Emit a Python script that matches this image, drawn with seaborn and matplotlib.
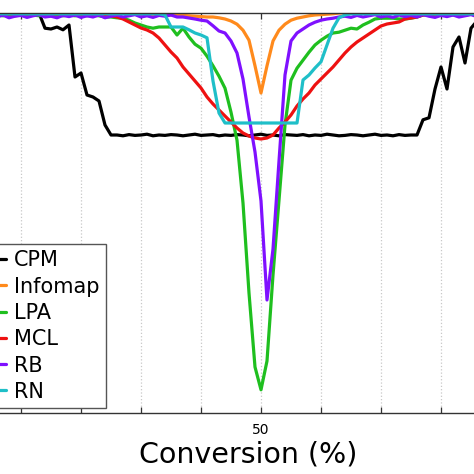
import numpy as np
import pandas as pd
import matplotlib
matplotlib.use("Agg")
import matplotlib.pyplot as plt
import seaborn as sns

conversion = list(range(0, 101))

cpm = ([1.0] * 14
       + [0.962, 0.96, 0.965, 0.958, 0.97, 0.84, 0.85, 0.795, 0.79, 0.78, 0.72, 0.695]
       + [0.695, 0.693, 0.696, 0.694, 0.695, 0.697, 0.693, 0.695, 0.694, 0.696,
          0.695, 0.693, 0.695, 0.697, 0.694, 0.695, 0.696, 0.693, 0.695, 0.694,
          0.696, 0.695, 0.693, 0.695, 0.697, 0.694, 0.695, 0.693, 0.696, 0.695,
          0.694, 0.696, 0.693, 0.695, 0.694, 0.697, 0.695, 0.693, 0.694, 0.696,
          0.695, 0.693, 0.695, 0.697, 0.694, 0.695, 0.693, 0.696, 0.694, 0.695]
       + [0.695, 0.733, 0.738, 0.81, 0.865, 0.81, 0.915, 0.94, 0.875, 0.962, 0.98, 0.97, 0.99]
       + [1.0] * 12)

infomap = ([1.0] * 30
           + [0.997, 0.997, 0.996, 0.996, 0.995, 0.995, 0.994, 0.994]
           + [0.993, 0.992, 0.991, 0.99, 0.99, 0.988, 0.985, 0.98, 0.972, 0.957, 0.932, 0.868,
              0.80, 0.868, 0.93, 0.957, 0.972, 0.982, 0.987, 0.99, 0.993, 0.995, 0.996, 0.997, 0.998]
           + [1.0] * 38)

lpa = ([0.995, 0.993] * 12
       + [0.99, 0.99, 0.988, 0.987, 0.982, 0.975, 0.97, 0.965, 0.962, 0.965,
          0.965, 0.965, 0.945, 0.962, 0.94, 0.922, 0.912, 0.892, 0.868, 0.842,
          0.812, 0.752, 0.682, 0.525, 0.30, 0.115, 0.058, 0.13, 0.345, 0.532,
          0.72, 0.832, 0.862, 0.882, 0.902, 0.92, 0.932, 0.942, 0.95, 0.952,
          0.957, 0.962, 0.96, 0.97, 0.977, 0.985, 0.987, 0.987, 0.987, 0.985,
          0.985, 0.987, 0.99, 0.995]
       + [0.995, 0.997] * 11 + [0.997])

mcl = ([0.998] * 23 + [0.997]
       + [0.995, 0.9925, 0.99, 0.985, 0.9775, 0.97, 0.9625, 0.9575, 0.95, 0.9375,
          0.92, 0.9025, 0.8875, 0.865, 0.8475, 0.83, 0.8125, 0.79, 0.7725, 0.7575,
          0.7425, 0.7275, 0.7125, 0.70, 0.6925, 0.6875, 0.685, 0.6875, 0.695, 0.7125,
          0.7275, 0.745, 0.7675, 0.785, 0.80, 0.82, 0.835, 0.85, 0.865, 0.8825,
          0.90, 0.915, 0.9275, 0.9375, 0.9475, 0.9575, 0.9675, 0.9725, 0.975, 0.9775,
          0.985, 0.9875, 0.99, 0.995]
       + [0.998] * 23)

rb = ([0.993, 0.988, 0.992, 0.995, 0.989, 0.993, 0.99, 0.995, 0.988, 0.992,
       0.994, 0.989, 0.993, 0.996, 0.99, 0.992, 0.988, 0.994, 0.991, 0.995,
       0.989, 0.993, 0.99, 0.995, 0.988, 0.992, 0.995, 0.99, 0.993, 0.996,
       0.99, 0.993, 0.989, 0.994, 0.992, 0.995, 0.99, 0.99]
      + [0.9875, 0.985, 0.982, 0.98, 0.968, 0.955, 0.95, 0.93, 0.90, 0.835,
         0.74, 0.6525, 0.53, 0.2825, 0.41, 0.63, 0.845, 0.93, 0.95, 0.96,
         0.97, 0.977, 0.982, 0.985, 0.987]
      + [0.99, 0.992, 0.989, 0.994, 0.99, 0.993, 0.996, 0.99, 0.993, 0.989,
         0.995, 0.991, 0.994, 0.99, 0.996, 0.992, 0.989, 0.994, 0.991, 0.995,
         0.99, 0.993, 0.996, 0.991, 0.994, 0.99, 0.995, 0.992, 0.994, 0.99,
         0.993, 0.995, 0.991, 0.994, 0.992, 0.995, 0.993, 0.994])

rn = ([0.998] * 34
      + [0.995, 0.965, 0.965, 0.965, 0.958, 0.95, 0.945, 0.938, 0.83, 0.75]
      + [0.725] * 13
      + [0.8325, 0.845, 0.8625, 0.878, 0.92, 0.962, 0.988, 0.995]
      + [0.998] * 36)

methods = ["CPM", "Infomap", "LPA", "MCL", "RB", "RN"]
series = [cpm, infomap, lpa, mcl, rb, rn]
colors = ["#000000", "#ff8a1c", "#1fbf1f", "#ee1111", "#7f10ff", "#1fbfc8"]

frames = []
for name, vals in zip(methods, series):
    frames.append(pd.DataFrame({"Conversion": conversion, "value": vals, "method": name}))
df = pd.concat(frames, ignore_index=True)

sns.set_style("white")
plt.rcParams["font.family"] = ["DejaVu Sans"]
plt.rcParams["text.color"] = "black"
plt.rcParams["axes.labelcolor"] = "black"
plt.rcParams["xtick.color"] = "black"

fig = plt.figure(figsize=(4.74, 4.74), dpi=100)
ax = fig.add_axes([-39 / 474, 61 / 474, 600 / 474, 400 / 474])

sns.lineplot(data=df, x="Conversion", y="value", hue="method",
             palette=dict(zip(methods, colors)), hue_order=methods,
             linewidth=2.3, ax=ax, legend=True)

ax.set_xlim(0, 100)
ax.set_ylim(0, 1)
ticks = list(range(0, 101, 10))
ax.set_xticks(ticks)
ax.set_xticklabels(["50" if t == 50 else "" for t in ticks], fontsize=10)
ax.set_yticks([])
ax.set_ylabel("")
ax.grid(axis="x", color="#c8c8c8", linestyle=":", linewidth=0.9)
ax.tick_params(axis="x", direction="in", length=4, width=0.9, color="#333333",
               labelcolor="black", top=True, bottom=True, pad=7)
for s in ax.spines.values():
    s.set_color("#333333")
    s.set_linewidth(1.0)

ax.set_xlabel("Conversion (%)", fontsize=20.5, color="black")
ax.xaxis.set_label_coords(0.479, -0.07)

handles, labels = ax.get_legend_handles_labels()
leg = ax.legend(handles, labels, loc="lower right",
                bbox_to_anchor=(106 / 474, 66 / 474), bbox_transform=fig.transFigure,
                fontsize=15, frameon=True, fancybox=False, framealpha=1,
                edgecolor="#555555", labelspacing=0.3, handletextpad=0.4,
                handlelength=2.0, borderpad=0.3, borderaxespad=0)
leg.get_frame().set_linewidth(1.0)
for t in leg.get_texts():
    t.set_color("black")

fig.savefig("out.png", dpi=100)
